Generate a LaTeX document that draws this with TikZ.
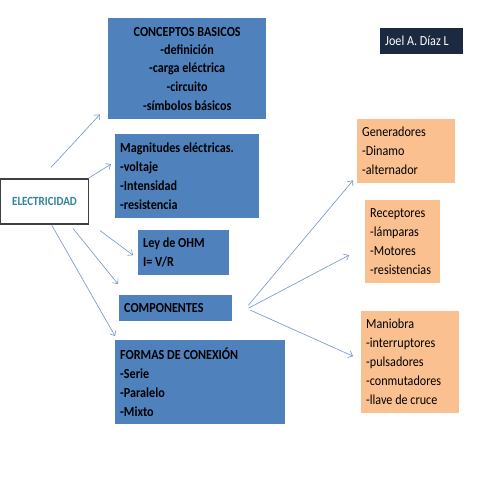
\documentclass[tikz,border=0pt]{standalone}
\usepackage{fontspec}
\setmainfont{Carlito}[FakeStretch=0.88]
\usepackage{xcolor}
\usepackage{tikz}
\usetikzlibrary{positioning, arrows.meta}

\definecolor{boxblue}{HTML}{4F81BD}
\definecolor{boxorange}{HTML}{FAC090}
\definecolor{navy}{HTML}{1B2A41}
\definecolor{linkblue}{HTML}{7393C4}
\definecolor{teal}{HTML}{31849B}

\newcommand{\boxfont}{\fontsize{13.8}{19}\selectfont}

\begin{document}
\begin{tikzpicture}[x=1pt, y=-1pt,
    box/.style={anchor=north west, inner xsep=5pt, inner ysep=0pt, align=left, font=\boxfont,
        execute at begin node={\spaceskip=0.2em\relax}},
    bluebox/.style={box, fill=boxblue, font=\boxfont\bfseries},
    orangebox/.style={box, fill=boxorange},
    arr/.style={draw=linkblue, line width=0.6pt, -{Straight Barb[length=4pt,width=7pt]}}]
    \useasboundingbox[fill=white] (0,0) rectangle (480,480);

    \node[bluebox, align=center, text width=148pt, minimum height=101pt] (conc) at (108,18)
        {\fontsize{13.8}{18.3}\selectfont CONCEPTOS BASICOS\\-definición\\-carga eléctrica\\-circuito\\-símbolos básicos};
    \node[box, fill=navy, text=white, text width=73pt, minimum height=26pt] (autor) at (380,28) {Joel A. Díaz L};
    \node[bluebox, text width=134pt, minimum height=84pt] (magn) at (115,134)
        {Magnitudes eléctricas.\\-voltaje\\-Intensidad\\-resistencia};
    \node[draw=black!75, line width=1.2pt, fill=white, text=teal, font=\fontsize{12.5}{16}\selectfont\bfseries,
        minimum width=88pt, minimum height=45pt] (elec) at (44.5,201.5) {ELECTRICIDAD};
    \node[bluebox, text width=81pt, minimum height=45pt] (ohm) at (138,230) {Ley de OHM\\I= V/R};
    \node[bluebox, text width=103pt, minimum height=26pt] (comp) at (119,295) {COMPONENTES};
    \node[bluebox, text width=160pt, minimum height=84pt] (form) at (115,340)
        {FORMAS DE CONEXIÓN\\-Serie\\-Paralelo\\-Mixto};

    \node[orangebox, text width=88pt, minimum height=64pt] (gen) at (357,119)
        {Generadores\\-Dinamo\\-alternador};
    \node[orangebox, text width=65pt, minimum height=83pt] (rec) at (365,200)
        {Receptores\\-lámparas\\-Motores\\-resistencias};
    \node[orangebox, text width=88pt, minimum height=102pt] (man) at (361,311)
        {Maniobra\\-interruptores\\-pulsadores\\-conmutadores\\-llave de cruce};

    % electricidad -> temas
    \draw[arr] ([xshift=6.5pt, yshift=11pt]elec.north) -- ([xshift=-8pt, yshift=5pt]conc.south west);
    \draw[arr] ([xshift=-1pt]elec.north east) -- ([xshift=-4pt, yshift=12pt]magn.west);
    \draw[arr] ([xshift=11pt, yshift=-6pt]elec.south east) -- ([xshift=-5pt, yshift=-2.5pt]ohm.west);
    \draw[arr] ([xshift=-16pt, yshift=-4pt]elec.south east) -- ([xshift=-1pt, yshift=11pt]comp.north west);
    \draw[arr] ([xshift=7.5pt, yshift=-1pt]elec.south) -- ([yshift=4pt]form.north west);

    % componentes -> tipos
    \draw[arr] ([xshift=16pt, yshift=3pt]comp.east) -- ([xshift=-4pt, yshift=3pt]gen.south west);
    \draw[arr] ([xshift=16pt]comp.east) -- ([xshift=-16pt, yshift=-13.5pt]rec.west);
    \draw[arr] ([xshift=18pt, yshift=-2pt]comp.east) -- ([xshift=-8pt, yshift=6pt]man.west);
\end{tikzpicture}
\end{document}
